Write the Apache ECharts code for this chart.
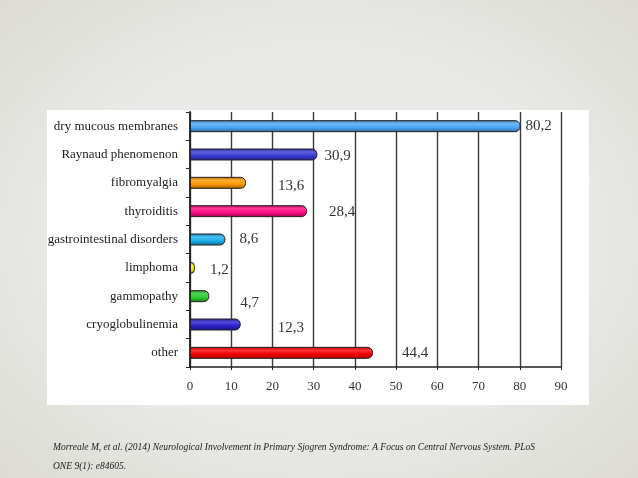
<!DOCTYPE html>
<html>
<head>
<meta charset="utf-8">
<script src="https://cdn.jsdelivr.net/npm/echarts@6/dist/echarts.min.js"></script>
<style>
  html, body { margin: 0; padding: 0; }
  body {
    width: 638px; height: 478px; overflow: hidden;
    background: radial-gradient(ellipse at center, #e9e9e7 55%, #dcdcd4 100%);
  }
  #panel { position: absolute; left: 47px; top: 110px; width: 542px; height: 295px; background: #fff; }
  #main { position: absolute; left: 0; top: 0; width: 638px; height: 478px; }
</style>
</head>
<body>
<div id="panel"></div>
<div id="main"></div>
<script>
// data
var categories = ["dry mucous membranes", "Raynaud phenomenon", "fibromyalgia", "thyroiditis",
  "gastrointestinal disorders", "limphoma", "gammopathy", "cryoglobulinemia", "other"];
var values = [80.2, 30.9, 13.6, 28.4, 8.6, 1.2, 4.7, 12.3, 44.4];
var xTicks = [0, 10, 20, 30, 40, 50, 60, 70, 80, 90];

// styling per bar
var colors = ["#4da6f5", "#3a3ad6", "#ff9a00", "#ff0a84", "#1ab0ee", "#f5f000", "#2ecc2e", "#2a22cc", "#ff0000"];
var labelShift = [[5, 0], [7, 2], [32, 3], [22, 1], [14, 0], [15, 2], [31, 7], [37, 4], [29, 0]];

function shade(hex, k) {
  var n = parseInt(hex.slice(1), 16);
  var r = (n >> 16) & 255, g = (n >> 8) & 255, b = n & 255;
  function f(c) { return Math.max(0, Math.min(255, Math.round(k > 0 ? c + (255 - c) * k : c * (1 + k)))); }
  return "rgb(" + f(r) + "," + f(g) + "," + f(b) + ")";
}

// category axis is drawn bottom-up, so reverse
var cats = categories.slice().reverse();
var items = [];
for (let i = values.length - 1; i >= 0; i--) {
  var c = colors[i];
  items.push({
    value: values[i],
    itemStyle: {
      color: new echarts.graphic.LinearGradient(0, 0, 0, 1, [
        { offset: 0, color: shade(c, -0.3) },
        { offset: 0.3, color: shade(c, 0.2) },
        { offset: 0.6, color: c },
        { offset: 1, color: shade(c, -0.4) }
      ])
    },
    label: { offset: labelShift[i] }
  });
}

var myChart = echarts.init(document.getElementById("main"));
var option = {
  animation: false,
  grid: { left: 190, right: 77, top: 112, bottom: 111, containLabel: false },
  xAxis: {
    type: "value",
    min: xTicks[0],
    max: xTicks[xTicks.length - 1],
    interval: 10,
    axisLine: { show: true, lineStyle: { color: "#222", width: 1.5 } },
    axisTick: { show: true, length: 3, lineStyle: { color: "#222" } },
    axisLabel: { color: "#333", fontFamily: "Liberation Serif", fontSize: 13, margin: 13 },
    splitLine: { show: true, lineStyle: { color: "#3a3a3a", width: 1.4 } }
  },
  yAxis: {
    type: "category",
    data: cats,
    axisLine: { show: true, lineStyle: { color: "#222", width: 1.8 } },
    axisTick: { show: true, length: 4, lineStyle: { color: "#222" } },
    axisLabel: { color: "#222", fontFamily: "Liberation Serif", fontSize: 13, margin: 12 }
  },
  series: [{
    type: "bar",
    data: items,
    barWidth: 12,
    itemStyle: { borderColor: "#222", borderWidth: 1, borderRadius: [0, 5, 5, 0] },
    label: {
      show: true,
      position: "right",
      distance: 0,
      color: "#333",
      fontFamily: "Liberation Serif",
      fontSize: 15,
      formatter: function (p) { return String(p.value).replace(".", ","); }
    }
  }],
  graphic: [{
    type: "text",
    left: 53,
    top: 438,
    style: {
      text: "Morreale M, et al. (2014) Neurological Involvement in Primary Sjogren Syndrome: A Focus on Central Nervous System. PLoS\nONE 9(1): e84605.",
      font: "italic 9.5px 'Liberation Serif'",
      fill: "#1a1a1a",
      lineHeight: 19
    }
  }]
};
myChart.setOption(option);
</script>
</body>
</html>
